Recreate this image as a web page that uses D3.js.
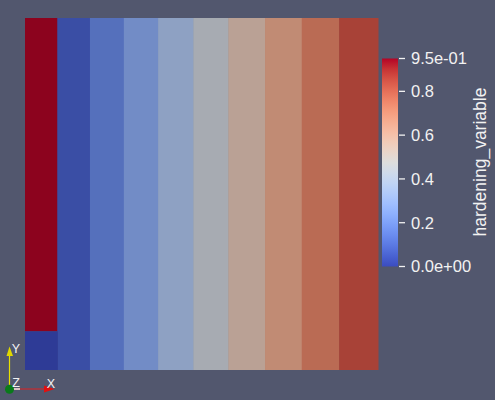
<!DOCTYPE html>
<html>
<head>
<meta charset="utf-8">
<script src="https://cdn.jsdelivr.net/npm/d3@7"></script>
<style>
  html, body { margin: 0; padding: 0; background: #52576e; }
  svg { display: block; }
  text { font-family: "Liberation Sans", Arial, sans-serif; fill: #f2f2f2; }
</style>
</head>
<body>
<div id="chart"></div>
<script>
const width = 495;
const height = 400;

// mesh column edges (x) and the cell value of each column
const xEdges = [0, 0.0915, 0.184, 0.280, 0.377, 0.477, 0.576, 0.680, 0.784, 0.890, 1.0];
const columnValues = [0.95, 0.05, 0.15, 0.25, 0.35, 0.45, 0.55, 0.65, 0.75, 0.85];
// first column has a small bottom cell
const notchTop = 0.11;
const notchValue = 0.0;

const rangeMin = 0.0;
const rangeMax = 0.95;
const tickValues = [0.0, 0.2, 0.4, 0.6, 0.8, 0.95];
const barTitle = "hardening_variable";

// ParaView "Cool to Warm"
const coolWarm = [
    [59, 76, 192], [77, 104, 215], [98, 130, 234], [119, 154, 247], [141, 176, 254],
    [163, 194, 255], [184, 208, 249], [204, 217, 238], [221, 221, 221], [236, 211, 197],
    [245, 196, 173], [247, 177, 148], [244, 154, 123], [236, 127, 99], [222, 96, 77],
    [203, 62, 56], [180, 4, 38]
];
const lut = d3.scaleLinear()
    .domain(coolWarm.map((d, i) => i / (coolWarm.length - 1)))
    .range(coolWarm.map(c => d3.rgb(c[0], c[1], c[2])))
    .interpolate(d3.interpolateRgb)
    .clamp(true);
const norm = d3.scaleLinear().domain([rangeMin, rangeMax]).range([0, 1]).clamp(true);
const shade = 0.78;
const surfaceColor = v => {
    const c = d3.rgb(lut(norm(v)));
    return d3.rgb(c.r * shade, c.g * shade, c.b * shade).formatHex();
};

const svg = d3.select("#chart").append("svg")
    .attr("width", width)
    .attr("height", height);

const x = d3.scaleLinear().domain([0, 1]).range([25, 378]);
const y = d3.scaleLinear().domain([0, 1]).range([370, 18]);

const cells = columnValues.map((v, i) => ({
    x0: xEdges[i], x1: xEdges[i + 1],
    y0: i === 0 ? notchTop : 0, y1: 1, value: v
}));
cells.push({ x0: xEdges[0], x1: xEdges[1], y0: 0, y1: notchTop, value: notchValue });

svg.append("g").selectAll("rect")
    .data(cells)
    .join("rect")
    .attr("x", d => x(d.x0))
    .attr("y", d => y(d.y1))
    .attr("width", d => x(d.x1) - x(d.x0) + 0.5)
    .attr("height", d => y(d.y0) - y(d.y1))
    .attr("fill", d => surfaceColor(d.value));

// color bar
const barX = 382, barW = 16;
const barScale = d3.scaleLinear().domain([rangeMin, rangeMax]).range([266.5, 58.5]);

const grad = svg.append("defs").append("linearGradient")
    .attr("id", "cbar")
    .attr("x1", 0).attr("y1", 1).attr("x2", 0).attr("y2", 0);
grad.selectAll("stop")
    .data(d3.range(0, 1.0001, 0.05))
    .join("stop")
    .attr("offset", d => d)
    .attr("stop-color", d => lut(d));

svg.append("rect")
    .attr("x", barX)
    .attr("y", barScale(rangeMax))
    .attr("width", barW)
    .attr("height", barScale(rangeMin) - barScale(rangeMax))
    .attr("fill", "url(#cbar)");

const fmt = d => (d === rangeMin || d === rangeMax) ? d.toExponential(1).replace(/e([+-])(\d)$/, "e$10$2") : d3.format(".1f")(d);

const ticks = svg.append("g").selectAll("g")
    .data(tickValues)
    .join("g")
    .attr("transform", d => `translate(0,${barScale(d)})`);
ticks.append("line")
    .attr("x1", 399).attr("x2", 405)
    .attr("stroke", "#f2f2f2").attr("stroke-width", 1.3);
ticks.append("text")
    .attr("x", 411)
    .attr("dy", "0.36em")
    .style("font-size", "16.5px")
    .text(fmt);

svg.append("text")
    .attr("transform", "translate(486,162) rotate(-90)")
    .attr("text-anchor", "middle")
    .style("font-size", "17.5px")
    .text(barTitle);

// orientation axes
const tri = svg.append("g");
tri.append("line").attr("x1", 9.5).attr("y1", 389).attr("x2", 9.5).attr("y2", 354)
    .attr("stroke", "#e8e000").attr("stroke-width", 1.2);
tri.append("path").attr("d", "M6.5,356 L9.5,346.5 L13,356 Z").attr("fill", "#e0d800");
tri.append("line").attr("x1", 9.5).attr("y1", 389).attr("x2", 46).attr("y2", 389)
    .attr("stroke", "#e02020").attr("stroke-width", 1.2);
tri.append("path").attr("d", "M44,385.5 L54.5,389 L44,392.5 Z").attr("fill", "#e01010");
tri.append("line").attr("x1", 9.5).attr("y1", 389).attr("x2", 20).attr("y2", 389)
    .attr("stroke", "#f0f0f0").attr("stroke-width", 1.5);
tri.append("circle").attr("cx", 9.5).attr("cy", 389.3).attr("r", 4.5).attr("fill", "#0a7a1a");
tri.selectAll("text")
    .data([["Y", 16, 352.5], ["Z", 16, 386.5], ["X", 51, 388]])
    .join("text")
    .attr("x", d => d[1]).attr("y", d => d[2])
    .attr("text-anchor", "middle")
    .style("font-size", "12.5px")
    .text(d => d[0]);
</script>
</body>
</html>
